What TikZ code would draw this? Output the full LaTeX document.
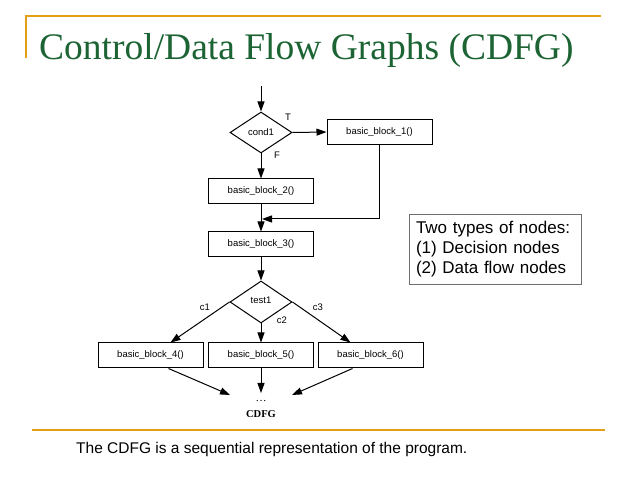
\documentclass[tikz,border=0pt]{standalone}
\usepackage{fontspec}
\setmainfont{Liberation Serif}
\setsansfont{Liberation Sans}
\usetikzlibrary{arrows.meta,shapes.geometric}
\definecolor{titlegreen}{RGB}{28,100,52}
\definecolor{rulegold}{RGB}{228,160,20}
\definecolor{boxgray}{RGB}{110,110,110}
\begin{document}
\begin{tikzpicture}[x=1pt,y=-1pt,
  flow/.style={-{Triangle[length=10pt,width=7pt]}, line width=1pt},
  bblock/.style={draw, line width=1pt, minimum width=105pt, minimum height=25pt, inner sep=0pt,
     font=\sffamily\fontsize{9.5}{10}\selectfont},
  decision/.style={draw, diamond, line width=1pt, minimum width=62pt, minimum height=41pt, inner sep=0pt,
     font=\sffamily\fontsize{9.5}{10}\selectfont},
  edgelbl/.style={font=\sffamily\fontsize{9.5}{10}\selectfont, inner sep=0pt},
  goldrule/.style={draw=rulegold, line width=1.3pt}]
\useasboundingbox[fill=white] (0,0) rectangle (638,478);

% slide decoration
\coordinate (tl) at (26,16);
\coordinate (tr) at (601,16);
\coordinate (tv) at (26,58);
\draw[goldrule] (tv) -- (tl) -- (tr);
\coordinate (bl) at (32,430);
\coordinate (br) at (605,430);
\draw[goldrule] (bl) -- (br);

\node[anchor=base west, inner sep=0pt, text=titlegreen, font=\fontsize{37.5}{40}\selectfont] (title) at (39,60) {Control/Data Flow Graphs (CDFG)};
\node[anchor=base west, inner sep=0pt, font=\sffamily\fontsize{15.5}{18}\selectfont] (caption) at (76,454) {The CDFG is a sequential representation of the program.};

\node[draw=boxgray, line width=0.8pt, minimum width=172pt, minimum height=70pt, text width=158pt, inner xsep=7pt, inner ysep=4pt, align=left,
  font=\sffamily\fontsize{17}{20}\selectfont] (types) at (495,249) {Two types of nodes:\\(1) Decision nodes\\(2) Data flow nodes};

% graph
\coordinate (entry) at (261,86);
\node[decision] (cond1) at (261,132.5) {cond1};
\node[bblock] (bb1) at (379.5,132) {basic\_block\_1()};
\node[bblock] (bb2) at (261,191.5) {basic\_block\_2()};
\node[bblock] (bb3) at (261,244.5) {basic\_block\_3()};
\coordinate (join) at (262,219);
\node[decision, minimum height=42pt] (test1) at (261,302) {};
\node[edgelbl] (test1lbl) at (261,300) {test1};
\node[bblock] (bb4) at (150.5,355.5) {basic\_block\_4()};
\node[bblock] (bb5) at (261,355.5) {basic\_block\_5()};
\node[bblock] (bb6) at (370.5,355.5) {basic\_block\_6()};
\node[anchor=base, inner sep=0pt, font=\fontsize{11}{11}\selectfont] (dots) at (261,402) {\dots};
\node[inner sep=0pt, font=\bfseries\fontsize{10.5}{11}\selectfont] (cdfg) at (261,414) {CDFG};
\coordinate (in4) at (230,395);
\coordinate (in5) at (261,393);
\coordinate (in6) at (292,395);

\node[edgelbl] (T) at (288,117) {T};
\node[edgelbl] (F) at (277,155) {F};
\node[edgelbl] (c1) at (205,307) {c1};
\node[edgelbl] (c2) at (282,320) {c2};
\node[edgelbl] (c3) at (318,307) {c3};

\draw[flow] (entry) -- (cond1.north);
\draw[flow] (cond1.east) -- (bb1.west);
\draw[flow] (cond1.south) -- (bb2.north);
\draw[flow] (bb1.south) |- (join);
\draw[flow] (bb2.south) -- (bb3.north);
\draw[flow] (bb3.south) -- (test1.north);
\draw[flow] (test1.west) -- ([xshift=20pt]bb4.north);
\draw[flow] (test1.south) -- (bb5.north);
\draw[flow] (test1.east) -- ([xshift=-20pt]bb6.north);
\draw[flow] ([xshift=18pt]bb4.south) -- (in4);
\draw[flow] (bb5.south) -- (in5);
\draw[flow] ([xshift=-18pt]bb6.south) -- (in6);
\end{tikzpicture}
\end{document}
